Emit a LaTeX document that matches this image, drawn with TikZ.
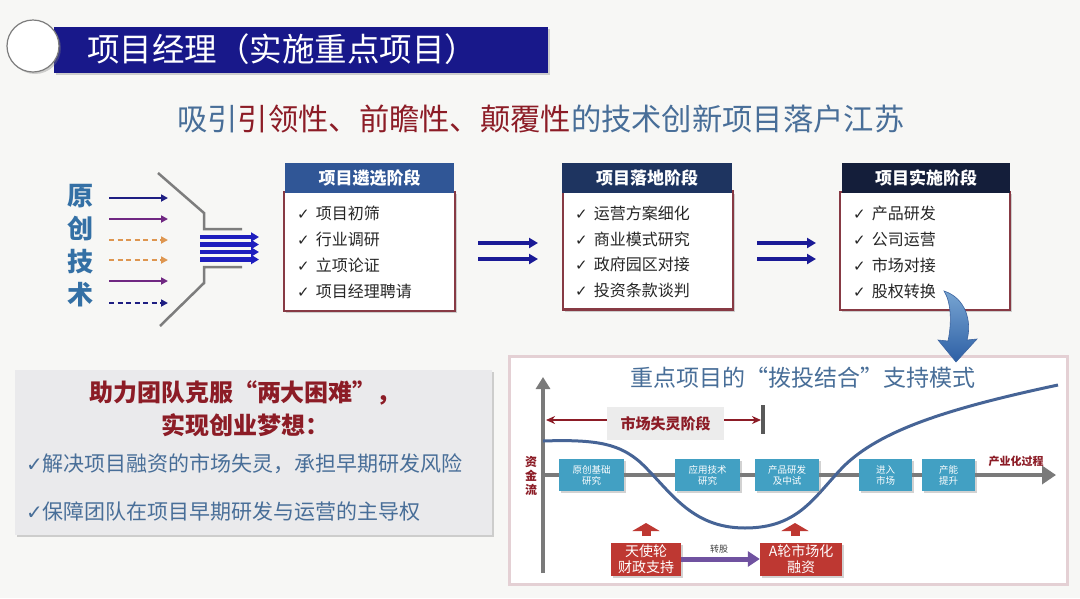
\documentclass[tikz,border=0pt]{standalone}
\usepackage{fontspec}
\setmainfont{Noto Sans CJK SC}
\newfontfamily\dvsans{DejaVu Sans}
\usetikzlibrary{arrows.meta,shadows}
\definecolor{bgc}{RGB}{247,247,245}
\definecolor{navybar}{RGB}{24,24,138}
\definecolor{slate}{RGB}{72,110,152}
\definecolor{dred}{RGB}{140,28,38}
\definecolor{ycblue}{RGB}{52,112,165}
\definecolor{arnavy}{RGB}{30,30,130}
\definecolor{arpurple}{RGB}{112,40,130}
\definecolor{arorange}{RGB}{222,150,80}
\definecolor{arblue}{RGB}{30,30,190}
\definecolor{funnel}{RGB}{125,125,125}
\definecolor{hdA}{RGB}{48,86,150}
\definecolor{hdB}{RGB}{30,52,96}
\definecolor{hdC}{RGB}{20,30,58}
\definecolor{bodyred}{RGB}{135,58,68}
\definecolor{dbl}{RGB}{26,26,150}
\definecolor{graybox}{RGB}{234,234,236}
\definecolor{panelb}{RGB}{228,208,212}
\definecolor{axisg}{RGB}{122,122,122}
\definecolor{curveb}{RGB}{70,100,150}
\definecolor{tealc}{RGB}{66,160,195}
\definecolor{redbox}{RGB}{190,56,50}
\definecolor{purp}{RGB}{112,82,160}
\definecolor{lblg}{RGB}{236,236,236}
\definecolor{bigarrA}{RGB}{120,165,210}
\definecolor{bigarrB}{RGB}{45,95,165}
\definecolor{bigarrE}{RGB}{60,100,160}
\begin{document}
\begin{tikzpicture}[x=1pt,y=-1pt,
  shd/.style={drop shadow={shadow xshift=2pt,shadow yshift=-2pt,opacity=0.35}},
  hdr/.style={fill=#1,text=white,font=\fontsize{17}{20}\selectfont\bfseries,minimum height=30pt,inner sep=0pt},
  stagebody/.style={draw=bodyred,line width=2.5pt,fill=white,minimum width=170pt,minimum height=118pt,inner sep=0pt,shd},
  item/.style={anchor=west,font=\fontsize{16}{18}\selectfont,text=black!85,inner sep=0pt},
  inarrow/.style={line width=1.8pt,-{Triangle[width=7pt,length=7pt]}},
  dsh/.style={dash pattern=on 5pt off 3.5pt},
  outarrow/.style={draw=arblue,line width=4.5pt,-{Triangle[width=9pt,length=8pt]}},
  dblarrow/.style={draw=dbl,line width=3.8pt,-{Triangle[width=10pt,length=9pt]}},
  funnelline/.style={draw=funnel,line width=2.5pt},
  tealbox/.style={fill=tealc,text=white,font=\fontsize{9.5}{11}\selectfont,align=center,inner sep=0pt,minimum height=32pt,shd},
  redb/.style={fill=redbox,text=white,font=\fontsize{14}{16}\selectfont,align=center,inner sep=0pt,minimum height=33pt,shd},
  uparr/.style={draw=redbox,line width=9pt,-{Triangle[width=27pt,length=8pt]}},
]
\useasboundingbox (0,0) rectangle (1080,598);
\fill[bgc] (0,0) rectangle (1080,598);

% header bar
\node[fill=navybar,minimum width=494pt,minimum height=46pt,inner sep=0pt,shd] (bar) at (301,50) {};
\node[circle,fill=white,draw=funnel,line width=1.2pt,minimum size=52pt,inner sep=0pt,shd] (circ) at (33,46) {};
\node[anchor=west,text=white,font=\fontsize{32.5}{36}\selectfont,inner sep=0pt] (title) at (87,49) {项目经理（实施重点项目）};

% subtitle
\node[anchor=west,font=\fontsize{30.3}{34}\selectfont,inner sep=0pt] (sub) at (177,119)
 {\textcolor{slate}{吸引}\textcolor{dred}{引领性、前瞻性、颠覆性}\textcolor{slate}{的技术创新项目落户江苏}};

% left: original tech
\node[align=center,text=ycblue,font=\fontsize{26}{33}\selectfont\bfseries,inner sep=0pt] (yc) at (80,246) {原\\创\\技\\术};
\coordinate (ia1) at (109,198); \coordinate (ib1) at (168,198);
\coordinate (ia2) at (109,219); \coordinate (ib2) at (168,219);
\coordinate (ia3) at (109,240); \coordinate (ib3) at (168,240);
\coordinate (ia4) at (109,260); \coordinate (ib4) at (168,260);
\coordinate (ia5) at (109,281); \coordinate (ib5) at (168,281);
\coordinate (ia6) at (109,303); \coordinate (ib6) at (168,303);
\draw[inarrow,arnavy] (ia1) -- (ib1);
\draw[inarrow,arpurple] (ia2) -- (ib2);
\draw[inarrow,arorange,dsh] (ia3) -- (ib3);
\draw[inarrow,arorange,dsh] (ia4) -- (ib4);
\draw[inarrow,arpurple] (ia5) -- (ib5);
\draw[inarrow,arnavy,dsh] (ia6) -- (ib6);

% funnel
\draw[funnelline] (158,173) -- (204,213) -- (204,229) -- (242,229);
\draw[funnelline] (242,267) -- (204,267) -- (204,283) -- (160,326);
\foreach \yy [count=\i] in {237,244.5,252,259.5} {
  \coordinate (oa\i) at (200,\yy); \coordinate (ob\i) at (259,\yy);
  \draw[outarrow] (oa\i) -- (ob\i);
}

% stage boxes
\node[stagebody,minimum width=171pt,minimum height=119pt] (b1) at (369.5,251.5) {};
\node[hdr=hdA,minimum width=169pt] (h1) at (369.5,178) {项目遴选阶段};
\node[stagebody] (b2) at (648,250.5) {};
\node[hdr=hdB,minimum width=170pt] (h2) at (647,178) {项目落地阶段};
\node[stagebody] (b3) at (925,251) {};
\node[hdr=hdC,minimum width=168pt] (h3) at (926,178) {项目实施阶段};

\foreach \t [count=\i] in {项目初筛,行业调研,立项论证,项目经理聘请}
  \node[item] (b1i\i) at (297,187+26*\i) {{\dvsans\fontsize{15}{15}\selectfont ✓}\hspace{6pt}\t};
\foreach \t [count=\i] in {运营方案细化,商业模式研究,政府园区对接,投资条款谈判}
  \node[item] (b2i\i) at (575,188+25.5*\i) {{\dvsans\fontsize{15}{15}\selectfont ✓}\hspace{6pt}\t};
\foreach \t [count=\i] in {产品研发,公司运营,市场对接,股权转换}
  \node[item] (b3i\i) at (853,187+26*\i) {{\dvsans\fontsize{15}{15}\selectfont ✓}\hspace{6pt}\t};

% double arrows
\coordinate (d1a) at (478,243); \coordinate (d1b) at (538,243);
\coordinate (d2a) at (478,259); \coordinate (d2b) at (538,259);
\coordinate (d3a) at (757,243); \coordinate (d3b) at (816,243);
\coordinate (d4a) at (757,259); \coordinate (d4b) at (816,259);
\draw[dblarrow] (d1a) -- (d1b);
\draw[dblarrow] (d2a) -- (d2b);
\draw[dblarrow] (d3a) -- (d3b);
\draw[dblarrow] (d4a) -- (d4b);

% left gray box
\node[fill=graybox,minimum width=477pt,minimum height=165pt,inner sep=0pt,shd] (gb) at (253.5,452.5) {};
\node[text=dred,font=\fontsize{24}{27}\selectfont\bfseries,inner sep=0pt] (gt1) at (245,393) {助力团队克服“两大困难”，};
\node[text=dred,font=\fontsize{24}{27}\selectfont\bfseries,inner sep=0pt] (gt2) at (245,425) {实现创业梦想：};
\node[anchor=west,text=slate,font=\fontsize{21}{24}\selectfont,inner sep=0pt] (gi1) at (26,464) {{\dvsans\fontsize{20}{20}\selectfont ✓}解决项目融资的市场失灵，承担早期研发风险};
\node[anchor=west,text=slate,font=\fontsize{21}{24}\selectfont,inner sep=0pt] (gi2) at (26,512) {{\dvsans\fontsize{20}{20}\selectfont ✓}保障团队在项目早期研发与运营的主导权};

% right panel
\node[draw=panelb,line width=3pt,fill=white,minimum width=558pt,minimum height=228pt,inner sep=0pt] (panel) at (788,470) {};
\node[text=slate,font=\fontsize{23}{26}\selectfont,inner sep=0pt] (pt) at (803,378) {重点项目的“拨投结合”支持模式};

% big curved arrow
\shade[top color=bigarrA,bottom color=bigarrB,draw=bigarrE,line width=0.6pt]
  (944,291) .. controls (966,298) and (972,322) .. (967,340) -- (977,339) -- (956,362) -- (938,340)
  -- (948,341) .. controls (952,322) and (951,302) .. (944,291) -- cycle;

% axes
\coordinate (yb) at (543,573); \coordinate (yt) at (543,377);
\coordinate (xl) at (541,475); \coordinate (xr) at (1056,475);
\draw[axisg,line width=4.5pt,-{Triangle[width=14pt,length=12pt]}] (yb) -- (yt);
\draw[axisg,line width=4.5pt,-{Triangle[width=18pt,length=14pt]}] (xl) -- (xr);

% market failure dimension
\node[fill=lblg,minimum width=117pt,minimum height=33pt,inner sep=0pt,text=dred,font=\fontsize{15}{17}\selectfont\bfseries] (mf) at (665.5,423.5) {市场失灵阶段};
\coordinate (mfl) at (546,420); \coordinate (mfr) at (761,420);
\coordinate (bar1) at (763,405); \coordinate (bar2) at (763,434);
\draw[dred,line width=1.8pt,-{Stealth[width=8pt,length=9pt]}] (mf.west |- mfl) -- (mfl);
\draw[dred,line width=1.8pt,-{Stealth[width=8pt,length=9pt]}] (mf.east |- mfr) -- (mfr);
\draw[black!65,line width=3.5pt] (bar1) -- (bar2);

% capital curve
\draw[curveb,line width=3pt] (543,441) .. controls (600,439) and (620,445) .. (640,462)
  .. controls (670,490) and (690,528) .. (745,528)
  .. controls (800,528) and (815,495) .. (845,465)
  .. controls (880,432) and (940,410) .. (1058,385);

% teal stage boxes
\node[tealbox,minimum width=65pt] (t1) at (591.5,475) {原创基础\\研究};
\node[tealbox,minimum width=65pt] (t2) at (707.5,475) {应用技术\\研究};
\node[tealbox,minimum width=64pt] (t3) at (787,475) {产品研发\\及中试};
\node[tealbox,minimum width=53pt] (t4) at (885.5,475) {进入\\市场};
\node[tealbox,minimum width=53pt] (t5) at (948.5,475) {产能\\提升};

\node[text=dred,font=\fontsize{11}{12}\selectfont\bfseries,inner sep=0pt] (cyh) at (1016,461) {产业化过程};
\node[text=dred,align=center,font=\fontsize{12}{14}\selectfont\bfseries,inner sep=0pt] (zjl) at (531,476) {资\\金\\流};

% funding boxes
\node[redb,minimum width=70pt] (r1) at (646,559) {天使轮\\财政支持};
\node[redb,minimum width=82pt] (r2) at (801,559) {A轮市场化\\融资};
\coordinate (u1a) at (646,536); \coordinate (u1b) at (646,523);
\coordinate (u2a) at (795,536); \coordinate (u2b) at (795,523);
\draw[uparr] (u1a) -- (u1b);
\draw[uparr] (u2a) -- (u2b);
\draw[purp,line width=5pt,-{Triangle[width=15pt,length=12pt]}] (r1.east) -- (r2.west);
\node[text=black!75,font=\fontsize{9}{10}\selectfont,inner sep=0pt] (zg) at (719,549) {转股};
\end{tikzpicture}
\end{document}
